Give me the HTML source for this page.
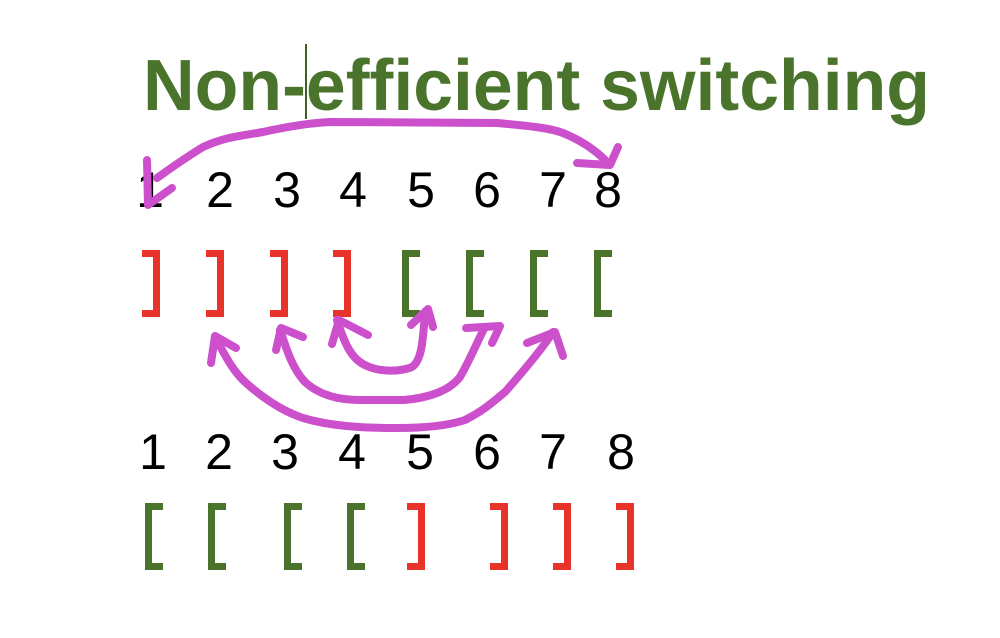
<!DOCTYPE html>
<html><head><meta charset="utf-8"><style>
html,body{margin:0;padding:0;background:#fff;}
svg{display:block;}
</style></head><body>
<svg width="1000" height="638" viewBox="0 0 1000 638" xmlns="http://www.w3.org/2000/svg">
<rect width="1000" height="638" fill="#fff"/>
<text x="143" y="110" font-family="Liberation Sans, sans-serif" font-weight="bold" font-size="72" fill="#4a742b" textLength="787" lengthAdjust="spacingAndGlyphs">Non-efficient switching</text>
<line x1="306" y1="44" x2="306" y2="119" stroke="#3d6324" stroke-width="2"/>
<g font-family="Liberation Sans, sans-serif" font-size="50" fill="#000" text-anchor="middle">
<text x="150" y="207">1</text><text x="220" y="207">2</text><text x="287" y="207">3</text><text x="353" y="207">4</text>
<text x="421" y="207">5</text><text x="487" y="207">6</text><text x="553" y="207">7</text><text x="608" y="207">8</text>
<text x="153" y="469">1</text><text x="219" y="469">2</text><text x="285" y="469">3</text><text x="352" y="469">4</text>
<text x="420" y="469">5</text><text x="487" y="469">6</text><text x="553" y="469">7</text><text x="621" y="469">8</text>
</g>
<g fill="none" stroke-width="7" stroke-linecap="butt">
<g stroke="#e8332a">
<path d="M142 253.5 H156.5 V313.5 H142"/><path d="M206 253.5 H220.5 V313.5 H206"/><path d="M270 253.5 H284.5 V313.5 H270"/><path d="M333 253.5 H347.5 V313.5 H333"/>
</g>
<g stroke="#4a742b">
<path d="M420 253.5 H405.5 V313.5 H420"/><path d="M484 253.5 H469.5 V313.5 H484"/><path d="M548 253.5 H533.5 V313.5 H548"/><path d="M612 253.5 H597.5 V313.5 H612"/>
</g>
<g stroke="#4a742b">
<path d="M163 506.5 H148.5 V566.5 H163"/><path d="M226 506.5 H211.5 V566.5 H226"/><path d="M302 506.5 H287.5 V566.5 H302"/><path d="M365 506.5 H350.5 V566.5 H365"/>
</g>
<g stroke="#e8332a">
<path d="M407 506.5 H421.5 V566.5 H407"/><path d="M490 506.5 H504.5 V566.5 H490"/><path d="M553 506.5 H567.5 V566.5 H553"/><path d="M616 506.5 H630.5 V566.5 H616"/>
</g>
</g>
<g fill="none" stroke="#cc4fcc" stroke-width="8" stroke-linecap="round" stroke-linejoin="round">
<path d="M157 178 C175 165 190 155 203 147 C225 137 240 136 263 132 C290 126 310 123 330 122 L497 123 C530 126 550 128 563 133 C580 140 595 150 605 160"/>
<path d="M577 163 L610 165 L618 147"/>
<path d="M147 160 L148 205 L172 188"/>
<path d="M337 320 C345 345 352 360 367 366 C380 372 400 372 412 367 C422 360 423 340 425 312"/>
<path d="M332 344 L339 320 L368 335"/>
<path d="M411 325 L428 309 L433 327"/>
<path d="M280 330 C287 350 292 368 305 382 C320 396 340 400 360 400 L403 400 C430 398 450 390 460 377 C470 360 478 340 485 327"/>
<path d="M276 350 L281 328 L303 337"/>
<path d="M466 328 L500 326 L492 343"/>
<path d="M215 337 C225 355 232 370 245 382 C265 400 285 412 303 418 C330 426 360 428 397 428 C430 428 450 425 465 420 C485 410 495 400 505 392 C520 375 540 352 553 332"/>
<path d="M211 363 L215 336 L236 348"/>
<path d="M527 343 L555 332 L563 356"/>
</g>
</svg>
</body></html>
